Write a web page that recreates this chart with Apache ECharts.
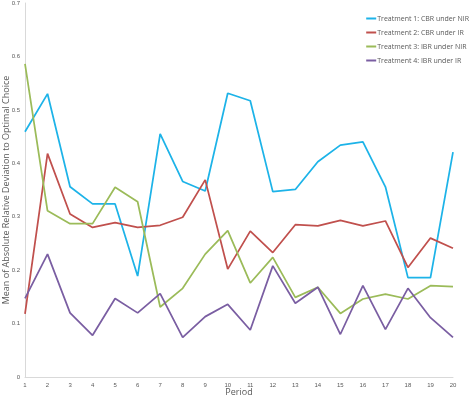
<!DOCTYPE html>
<html>
<head>
<meta charset="utf-8">
<script src="https://cdn.jsdelivr.net/npm/echarts@6/dist/echarts.min.js"></script>
<style>
  html, body { margin: 0; padding: 0; background: #fff; }
  #chart { width: 474px; height: 397px; }
</style>
</head>
<body>
<div id="chart"></div>
<script>
// periods 1..20
const periods = ['1','2','3','4','5','6','7','8','9','10','11','12','13','14','15','16','17','18','19','20'];

const treatment1 = [0.459, 0.530, 0.356, 0.324, 0.324, 0.189, 0.455, 0.366, 0.348, 0.531, 0.517, 0.347, 0.351, 0.403, 0.434, 0.440, 0.356, 0.186, 0.186, 0.421];
const treatment2 = [0.118, 0.418, 0.305, 0.280, 0.289, 0.280, 0.284, 0.299, 0.369, 0.202, 0.273, 0.233, 0.285, 0.283, 0.293, 0.283, 0.292, 0.205, 0.260, 0.241];
const treatment3 = [0.586, 0.311, 0.287, 0.287, 0.355, 0.328, 0.131, 0.166, 0.230, 0.274, 0.176, 0.224, 0.149, 0.168, 0.119, 0.146, 0.155, 0.146, 0.171, 0.169];
const treatment4 = [0.147, 0.230, 0.120, 0.078, 0.147, 0.120, 0.156, 0.074, 0.113, 0.136, 0.088, 0.208, 0.138, 0.168, 0.080, 0.171, 0.089, 0.166, 0.111, 0.074];

const names = [
  'Treatment 1: CBR under NIR',
  'Treatment 2: CBR under IR',
  'Treatment 3: IBR under NIR',
  'Treatment 4: IBR under IR'
];
const colors = ['#1db3e8', '#c0504d', '#9bbb59', '#7a5ea2'];

const chart = echarts.init(document.getElementById('chart'), null, { renderer: 'canvas' });

const lineSeries = (name, data) => ({
  name: name,
  type: 'line',
  data: data,
  symbol: 'none',
  lineStyle: { width: 1.75 },
  animation: false
});

chart.setOption({
  color: colors,
  animation: false,
  grid: { left: 25, right: 21, top: 3, bottom: 20, outerBoundsMode: 'none', containLabel: false },
  legend: {
    orient: 'vertical',
    right: 0,
    top: 9,
    itemWidth: 10,
    itemHeight: 2,
    itemGap: 5,
    icon: 'rect',
    textStyle: { fontSize: 7, lineHeight: 9, color: '#595959', fontFamily: 'Open Sans', padding: [0, 0, 0, -4] },
    data: names
  },
  xAxis: {
    type: 'category',
    data: periods,
    boundaryGap: false,
    name: 'Period',
    nameLocation: 'middle',
    nameGap: 11,
    nameMoveOverlap: false,
    nameTextStyle: { fontSize: 9, color: '#595959', fontFamily: 'Open Sans' },
    axisLine: { lineStyle: { color: '#d9d9d9', width: 1 } },
    axisTick: { show: false },
    axisLabel: { fontSize: 6, color: '#595959', margin: 5 },
    splitLine: { show: false }
  },
  yAxis: {
    type: 'value',
    min: 0,
    max: 0.7,
    interval: 0.1,
    name: 'Mean of Absolute Relative Deviation to Optimal Choice',
    nameLocation: 'middle',
    nameGap: 14,
    nameMoveOverlap: false,
    nameTextStyle: { fontSize: 9, color: '#595959', fontFamily: 'Open Sans' },
    axisLine: { show: true, lineStyle: { color: '#d9d9d9', width: 1 } },
    axisTick: { show: false },
    axisLabel: { fontSize: 6, color: '#595959', margin: 5, formatter: v => String(Math.round(v * 10) / 10) },
    splitLine: { show: false }
  },
  series: [
    lineSeries(names[0], treatment1),
    lineSeries(names[1], treatment2),
    lineSeries(names[2], treatment3),
    lineSeries(names[3], treatment4)
  ]
});
</script>
</body>
</html>
